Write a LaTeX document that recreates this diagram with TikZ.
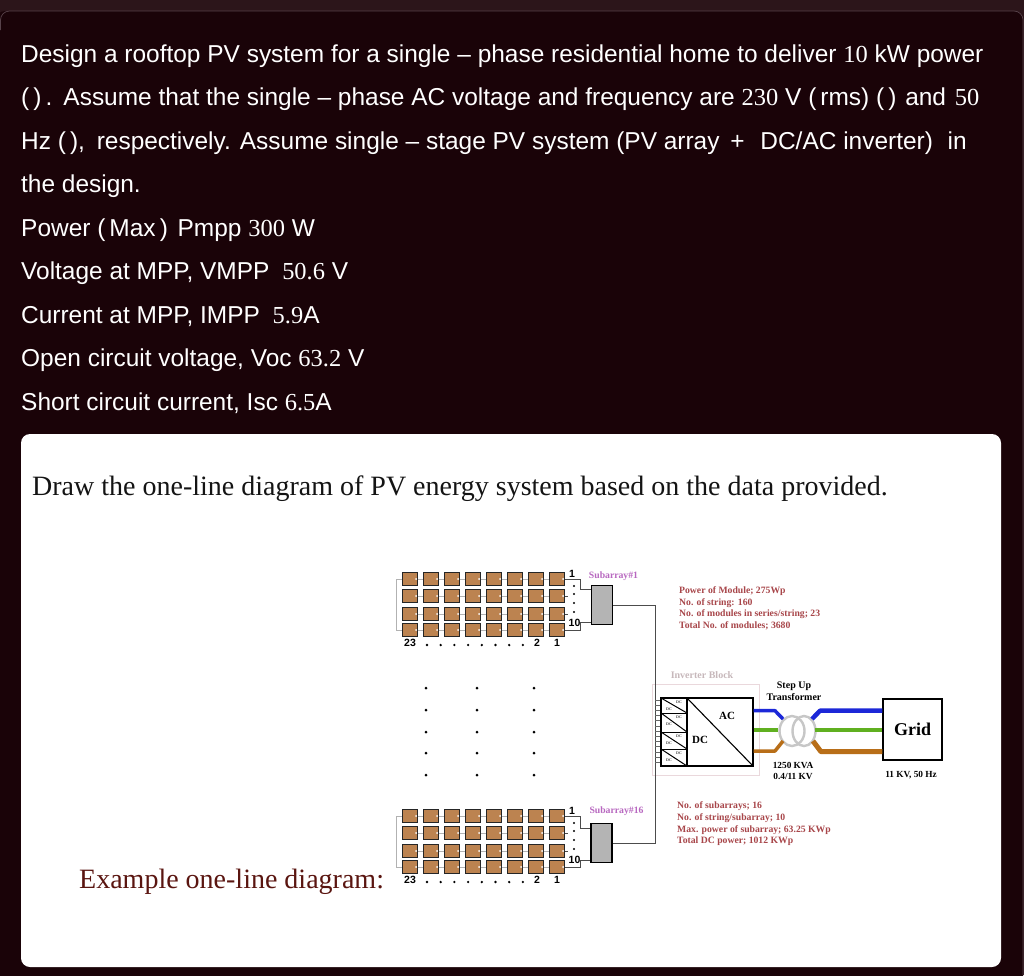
\documentclass[tikz,border=0pt]{standalone}
\usepackage{fontspec}
\setmainfont{Liberation Sans}
\newfontfamily\serifrm{Liberation Serif}
\usetikzlibrary{calc}
\definecolor{pagedark}{HTML}{1A0308}
\definecolor{stripdark}{HTML}{2C151A}
\definecolor{edgedark}{HTML}{57424A}
\definecolor{modbrown}{HTML}{BC8350}
\definecolor{subgray}{HTML}{B4B4B4}
\definecolor{noteRed}{HTML}{A8464A}
\definecolor{subPurple}{HTML}{B868C0}
\definecolor{blockPink}{HTML}{EAD8DC}
\definecolor{exampleRed}{HTML}{5A1510}
\definecolor{wireBlue}{HTML}{1C28D8}
\definecolor{wireGreen}{HTML}{60B020}
\definecolor{wireOrange}{HTML}{B86E18}
\tikzset{
	qline/.style={anchor=base west,text=white,inner sep=0pt,font=\fontsize{24.45}{24.45}\selectfont},
	bigserif/.style={anchor=base west,inner sep=0pt,font=\serifrm\fontsize{28}{28}\selectfont},
	note/.style={anchor=base west,inner sep=0pt,text=noteRed,font=\serifrm\bfseries\fontsize{9.7}{9.7}\selectfont},
	lbl/.style={inner sep=0pt,font=\serifrm\bfseries\fontsize{10}{12}\selectfont},
	smalllbl/.style={inner sep=0pt,font=\serifrm\bfseries\fontsize{9.3}{10.5}\selectfont},
	sublbl/.style={inner sep=0pt,text=subPurple,font=\serifrm\bfseries\fontsize{9.7}{9.7}\selectfont},
	numlbl/.style={inner sep=0pt,font=\bfseries\fontsize{10.5}{10.5}\selectfont},
	module/.style={draw=black!85,line width=1.4pt,fill=modbrown,minimum width=15pt,minimum height=13pt,inner sep=0pt},
	subbox/.style={draw=black,line width=1.2pt,fill=subgray,minimum width=21pt,minimum height=39pt,inner sep=0pt},
	wire/.style={draw=black!70,line width=1pt},
	lightwire/.style={draw=black!30,line width=.9pt},
	phase/.style={line width=#1,line join=round},
}
% one subarray: #1 = name, #2 = x of left end, #3 = y of top row
\newcommand{\subarray}[3]{
	\foreach \r/\dy in {1/0,2/17,3/35,4/51}{
		\foreach \c in {1,...,8}{
			\node[module] (#1m\r\c) at ({#2+(\c-1)*21},{#3+\dy}) {};
			\fill[white] ($(#1m\r\c.east)+(-2pt,0)$) circle (1pt);
		}
		\foreach \c [remember=\c as \last (initially 1)] in {2,...,8}{
			\draw[lightwire] (#1m\r\last) -- (#1m\r\c);
		}
	}
	\draw[lightwire] (#1m11.west) -- ++(-5,0) -- ($(#1m41.west)+(-5,0)$) -- (#1m41.west);
}
\begin{document}
\begin{tikzpicture}[x=1pt,y=-1pt]
	\useasboundingbox (0,0) rectangle (1024,975);
	\fill[stripdark] (0,0) rectangle (1024,975);
	\fill[pagedark,rounded corners=9pt] (-4,11) rectangle (1023,985);
	\fill[pagedark] (-4,30) rectangle (1023,975);
	\draw[edgedark,line width=.7pt,rounded corners=9pt] (.5,30) -- (.5,11) -- (1023,11) -- (1023,975);
	\fill[white,rounded corners=9pt] (21,434) rectangle (1001,967);
	
	\node[qline] (q1) at (21,62) {Design a rooftop PV system for a single -- phase residential home to deliver {\serifrm 10} kW power};
	\node[qline] (q2) at (21,105.5) {(\,)\,.\hspace{2pt} Assume that the single -- phase AC voltage and frequency are {\serifrm 230} V (\,rms) (\,)\hspace{2pt} and\hspace{2pt} {\serifrm 50}};
	\node[qline] (q3) at (21,149) {Hz (\,),\hspace{5pt} respectively. Assume single -- stage PV system (PV array\hspace{4pt} +\hspace{9pt} DC/AC inverter)\hspace{8pt} in};
	\node[qline] (q4) at (21,192.5) {the design.};
	\node[qline] (q5) at (21,236) {Power (\,Max\,)\hspace{3pt} Pmpp {\serifrm 300} W};
	\node[qline] (q6) at (21,279.5) {Voltage at MPP, VMPP\hspace{6pt} {\serifrm 50.6} V};
	\node[qline] (q7) at (21,323) {Current at MPP, IMPP\hspace{6pt} {\serifrm 5.9}A};
	\node[qline] (q8) at (21,366.5) {Open circuit voltage, Voc {\serifrm 63.2} V};
	\node[qline] (q9) at (21,410) {Short circuit current, Isc {\serifrm 6.5}A};
	
	\node[bigserif,text=black!92] (title) at (32,495) {Draw the one-line diagram of PV energy system based on the data provided.};
	\node[bigserif,text=exampleRed] (example) at (79,888) {Example one-line diagram:};
	
	% subarrays
	\subarray{a}{410}{579}
	\subarray{b}{410}{816}
	
	\node[subbox] (subA) at (602,605) {};
	\node[subbox] (subB) at (601.5,843) {};
	
	\foreach \g/\y in {a/579,b/816}{
		\node[numlbl] (\g one) at (572,\y-5.5) {1};
		\node[numlbl] (\g ten) at (574.5,\y+44) {10};
		\foreach \d in {7,15,24,33}{
			\fill[black] (574,\y+\d) circle (1.2pt);
		}
		\node[numlbl] (\g nA) at (410,\y+64) {23};
		\node[numlbl] (\g nB) at (537,\y+64) {2};
		\node[numlbl] (\g nC) at (557,\y+64) {1};
		\foreach \d in {0,...,7}{
			\fill[black] (427+\d*13.7,\y+66) circle (1.3pt);
		}
	}
	
	\coordinate (subAtop) at ($(subA.north west)!.12!(subA.south west)$);
	\coordinate (subAbot) at ($(subA.north west)!.93!(subA.south west)$);
	\coordinate (subBtop) at ($(subB.north west)!.13!(subB.south west)$);
	\coordinate (subBbot) at ($(subB.north west)!.93!(subB.south west)$);
	\draw[wire] (am18.east) -| ($(subAtop)+(-10,0)$) -- (subAtop);
	\draw[wire] (am48.east) -| ($(subAbot)+(-10,0)$) -- (subAbot);
	\draw[wire] (am28.east) -- ++(3,0);
	\draw[wire] (am38.east) -- ++(3,0);
	\draw[wire] (bm18.east) -| ($(subBtop)+(-10,0)$) -- (subBtop);
	\draw[wire] (bm48.east) -| ($(subBbot)+(-10,0)$) -- (subBbot);
	\draw[wire] (bm28.east) -- ++(3,0);
	\draw[wire] (bm38.east) -- ++(3,0);
	
	% inverter
	\coordinate (busTop) at (655,699);
	\coordinate (busBot) at (655,766);
	\draw[blockPink,line width=.8pt] (652,684) rectangle (759,775);
	\node[lbl,text=blockPink!85!black] (blockLbl) at (702,675) {Inverter Block};
	\draw[wire] (subA.east) -| (busTop);
	\draw[wire] (subB.east) -| (busBot);
	\draw[wire] (busTop) -- (busBot);
	\foreach \k in {0,...,12}{
		\draw[black!60,line width=.9pt] (655,{700+\k*5.2}) -- (661,{700+\k*5.2});
	}
	\draw[black,line width=1.1pt] (661,698) rectangle (687,766);
	\foreach \k/\ya/\yb in {0/698/713,1/713/732,2/732/749,3/749/766}{
		\draw[black,line width=1pt] (661,\ya) -- (687,\yb);
		\draw[black,line width=1pt] (661,\yb) -- (687,\yb);
		\node[font=\serifrm\bfseries\fontsize{4}{4}\selectfont,text=black!70] (dcA\k) at (679,\ya+4) {DC};
		\node[font=\serifrm\bfseries\fontsize{4}{4}\selectfont,text=black!70] (dcB\k) at (669,\ya+11) {DC};
	}
	\node[draw=black,line width=1.1pt,minimum width=66pt,minimum height=68pt,inner sep=0pt] (inv) at (720,732) {};
	\draw[black,line width=1.1pt] (inv.north west) -- (inv.south east);
	\node[lbl,font=\serifrm\bfseries\fontsize{11}{11}\selectfont] (acLbl) at (727,716) {AC};
	\node[lbl,font=\serifrm\bfseries\fontsize{11}{11}\selectfont] (dcLbl) at (700,740) {DC};
	
	% transformer
	\draw[black!22,line width=2.4pt] (792,731) ellipse (12.5pt and 15pt);
	\draw[black!22,line width=2.4pt] (804,731) ellipse (11.5pt and 15pt);
	\node[lbl] (stepLbl) at (794,692) {\begin{tabular}{@{}c@{}}Step Up\\Transformer\end{tabular}};
	\node[smalllbl] (kvaLbl) at (793,772) {\begin{tabular}{@{}c@{}}1250 KVA\\0.4/11 KV\end{tabular}};
	
	% grid
	\node[draw=black,line width=1.2pt,minimum width=59pt,minimum height=61pt,inner sep=0pt,font=\serifrm\bfseries\fontsize{18}{18}\selectfont] (grid) at (912.5,729.5) {Grid};
	\node[smalllbl] (gridLbl) at (911,775) {11 KV, 50 Hz};
	
	% wires
	\draw[wireBlue,phase=3.5pt] (inv.east |- 0,710.7) -- (775,710.7) -- (783,719);
	\draw[wireBlue,phase=4.5pt] (812,719) -- (820,710.7) -- (grid.west |- 0,710.7);
	\draw[wireGreen,phase=3.5pt] (inv.east |- 0,730) -- (778,730);
	\draw[wireGreen,phase=3.5pt] (815,730) -- (grid.west |- 0,730);
	\draw[wireOrange,phase=3.5pt] (inv.east |- 0,751) -- (775,751) -- (783,741);
	\draw[wireOrange,phase=5pt] (813,741) -- (821,751.7) -- (grid.west |- 0,751.7);
	
	% notes
	\node[note] (n1) at (679,593.5) {Power of Module; 275Wp};
	\node[note] (n2) at (679,605) {No. of string: 160};
	\node[note] (n3) at (679,616.5) {No. of modules in series/string; 23};
	\node[note] (n4) at (679,628) {Total No. of modules; 3680};
	\node[note] (n5) at (677,808) {No. of subarrays; 16};
	\node[note] (n6) at (677,820) {No. of string/subarray; 10};
	\node[note] (n7) at (677,832) {Max. power of subarray; 63.25 KWp};
	\node[note] (n8) at (677,843) {Total DC power; 1012 KWp};
	\node[sublbl] (subLblA) at (613.5,576) {Subarray\#1};
	\node[sublbl] (subLblB) at (616.5,811) {Subarray\#16};
	
	% dots between the subarrays
	\foreach \px in {426,477,534}{
		\foreach \py in {688,710,732,753,775}{
			\fill[black] (\px,\py) circle (1.5pt);
		}
	}
\end{tikzpicture}
\end{document}
